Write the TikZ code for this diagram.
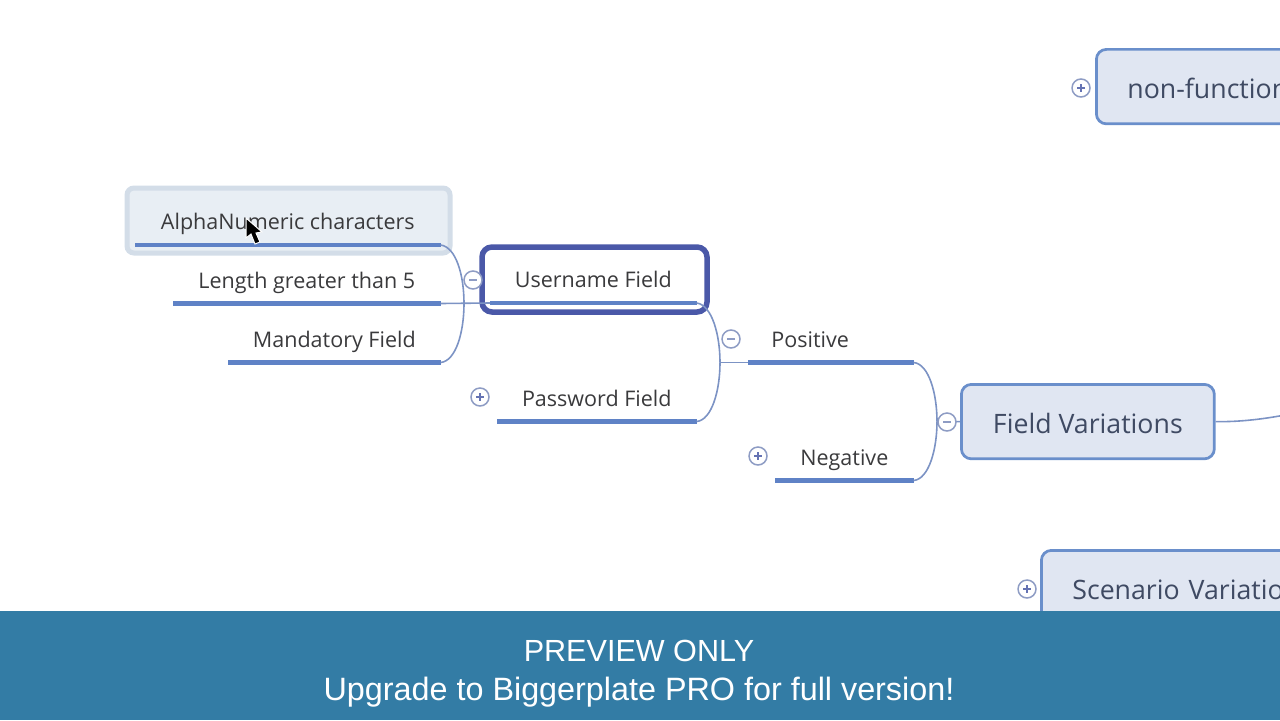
\documentclass[tikz,border=0pt]{standalone}
\usepackage{fontspec}
\setmainfont{Open Sans}
\newfontfamily\bannerfont{Liberation Sans}
\definecolor{linkblue}{HTML}{7C93C4}
\definecolor{barblue}{HTML}{5F82C6}
\definecolor{boxfill}{HTML}{E0E6F2}
\definecolor{boxedge}{HTML}{6A8FCB}
\definecolor{frameblue}{HTML}{4A58A8}
\definecolor{selfill}{HTML}{E8EEF4}
\definecolor{seledge}{HTML}{D3DDE8}
\definecolor{iconedge}{HTML}{8E9CC4}
\definecolor{bannerblue}{HTML}{337CA5}
\definecolor{inktext}{HTML}{3A3A3C}
\definecolor{boxtext}{HTML}{3F4A63}
\begin{document}
\begin{tikzpicture}[
  x=0.02cm, y=-0.02cm,
  topic/.style={anchor=south west, inner xsep=0pt, inner ysep=0.295cm, text height=0.36cm,
    text depth=0pt, font=\fontsize{12.25}{14}\selectfont, text=inktext},
  bar/.style={draw=barblue, line width=0.085cm},
  link/.style={draw=linkblue, line width=0.032cm},
  mainbox/.style={anchor=north west, draw=boxedge, fill=boxfill, line width=0.055cm, rounded corners=0.2cm,
    font=\fontsize{15.2}{18}\selectfont, text=boxtext, inner sep=0pt, text height=0.48cm, text depth=0pt},
  toggle/.style={circle, draw=iconedge, fill=white, line width=0.03cm, minimum size=0.36cm, inner sep=0pt},
  plusicon/.style={toggle, path picture={
    \draw[line width=0.05cm, draw=frameblue!60!iconedge] (path picture bounding box.center) ++(-4,0) -- ++(8,0)
      (path picture bounding box.center) ++(0,-4) -- ++(0,8);}},
  minusicon/.style={toggle, path picture={
    \draw[line width=0.04cm, draw=iconedge] (path picture bounding box.center) ++(-4,0) -- ++(8,0);}}
]

\useasboundingbox (0,0) rectangle (1280,720);
\clip (0,0) rectangle (1280,720);

% frames behind the topics
\draw[draw=seledge, fill=selfill, line width=0.1cm, rounded corners=0.14cm] (127,188) rectangle (450,253);
\draw[draw=frameblue, fill=white, line width=0.11cm, rounded corners=0.2cm] (482,247) rectangle (707,312);

% topics
\node[topic, minimum width=6.1cm] (alpha) at (135,245) {AlphaNumeric characters\hspace{0.04cm}};
\node[topic, minimum width=5.34cm] (length) at (173,303.5) {Length greater than 5\hspace{0.04cm}};
\node[topic, minimum width=4.24cm] (mandatory) at (228,362.5) {Mandatory Field};
\node[topic, minimum width=4.12cm] (username) at (490,303) {Username Field};
\node[topic, minimum width=3.98cm] (password) at (497,421.5) {Password Field\hspace{0.04cm}};
\node[topic, text width=2.38cm, inner xsep=0.46cm, align=left] (positive) at (748,362.5) {Positive};
\node[topic, minimum width=2.76cm] (negative) at (775,480.5) {Negative};

\foreach \t in {alpha,length,mandatory,username,password,positive,negative}
  \draw[bar] (\t.south west) -- (\t.south east);

% main boxes
\node[mainbox, minimum width=5.06cm, minimum height=1.49cm] (field) at (960,383) {Field Variations};
\node[mainbox, minimum width=5cm, minimum height=1.49cm, text width=5cm, align=left, inner xsep=0.62cm] (nonfunc) at (1095,48) {non-functional};
\node[mainbox, minimum width=6cm, minimum height=1.49cm, text width=5.6cm, align=left, inner xsep=0.62cm] (scenario) at (1040,549) {Scenario Variations};

% connectors
\coordinate (forkuser) at (464,303.5);
\coordinate (forkpos) at (720,362.5);
\coordinate (forkfield) at (937,421.5);
\coordinate (offpage) at (1290,414);

\draw[link] (alpha.south east) .. controls (456,247) and (464,275) .. (forkuser);
\draw[link] (mandatory.south east) .. controls (456,361) and (464,332) .. (forkuser);
\draw[link] (length.south east) -- (username.south west);
\draw[link] (username.south east) .. controls (712,305) and (720,335) .. (forkpos);
\draw[link] (password.south east) .. controls (712,420) and (720,390) .. (forkpos);
\draw[link] (forkpos) -- (positive.south west);
\draw[link] (positive.south east) .. controls (929,364) and (937,394) .. (forkfield);
\draw[link] (negative.south east) .. controls (929,479) and (937,449) .. (forkfield);
\draw[link] (forkfield) -- (field.west);
\draw[link] (field.east) .. controls (1240,422) and (1265,419) .. (offpage);

% toggles
\node[minusicon] (togusername) at (473,280) {};
\node[plusicon] (togpassword) at (480,397) {};
\node[minusicon] (togpositive) at (731,339) {};
\node[plusicon] (tognegative) at (758,456) {};
\node[minusicon] (togfield) at (947,422) {};
\node[plusicon] (tognonfunc) at (1081,88) {};
\node[plusicon] (togscenario) at (1027,589) {};

% mouse cursor
\fill[black, draw=white, line width=0.02cm] (246,218) -- (246,238) -- (251,234) -- (255,244) -- (260,242) -- (256,233) -- (262,232) -- cycle;

% banner
\fill[bannerblue] (0,611) rectangle (1280,720);
\node[font=\bannerfont\fontsize{17.4}{20}\selectfont, text=white] (previewline) at (639,650.5) {PREVIEW ONLY};
\node[font=\bannerfont\fontsize{18.4}{22}\selectfont, text=white] (upgradeline) at (639,692) {Upgrade to Biggerplate PRO for full version!};

\end{tikzpicture}
\end{document}
